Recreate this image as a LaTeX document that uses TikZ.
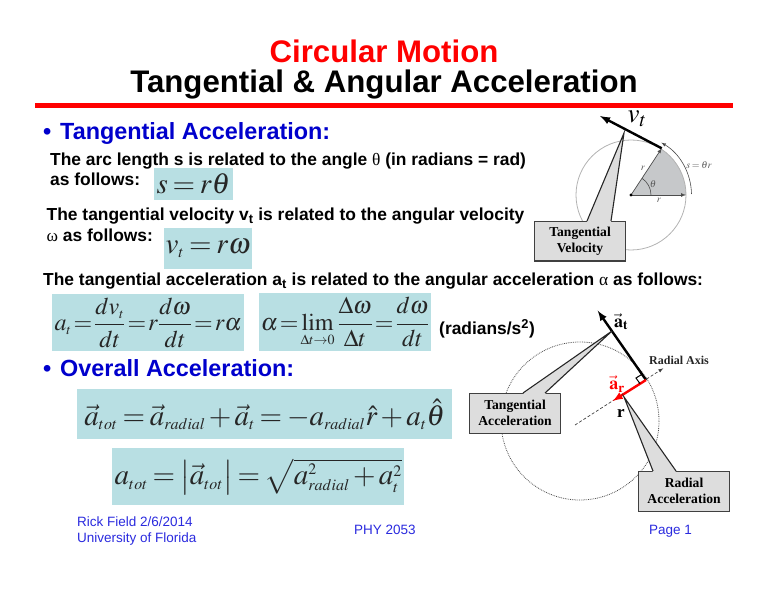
\documentclass[tikz,border=0pt]{standalone}
\usepackage{amsmath}
\usepackage{mathptmx}
\usepackage[no-math]{fontspec}
\setmainfont{Liberation Sans}
\newfontfamily\timesfont{Liberation Serif}
\usetikzlibrary{positioning}
\usetikzlibrary{calc}
\DeclareMathSizes{24}{24}{14}{10}
\DeclareMathSizes{29}{29}{16}{12}
\thickmuskip=3mu
\medmuskip=2mu
\definecolor{tealbox}{HTML}{B8DFE3}
\definecolor{headblue}{HTML}{0000CC}
\definecolor{footblue}{HTML}{2A2ADE}
\definecolor{callgray}{HTML}{DDDDDD}
\definecolor{wedgegray}{HTML}{C6C8CA}
\begin{document}
\begin{tikzpicture}[x=1pt,y=-1pt,
             title/.style={anchor=base,inner sep=0pt,font=\fontsize{31.2}{31.2}\selectfont\bfseries},
             heading/.style={anchor=base west,inner sep=0pt,text=headblue,font=\fontsize{23.4}{23.4}\selectfont\bfseries},
             body/.style={anchor=base west,inner sep=0pt,font=\fontsize{17.4}{17.4}\selectfont\bfseries},
             footer/.style={anchor=base west,inner sep=0pt,text=footblue,font=\fontsize{13.5}{13.5}\selectfont},
             eqn/.style={fill=tealbox,inner sep=0pt,anchor=north west,text=black!85,align=center},
             callbox/.style={draw=black!75,fill=callgray,line width=1.1pt,inner sep=0pt,anchor=north west,
                align=center,text width=91pt,minimum height=39.5pt,font=\timesfont\fontsize{13.6}{16}\selectfont\bfseries},
             pointer/.style={draw=black!85,line width=1.1pt,line join=miter},
             axis/.style={draw=black!75,line width=0.7pt,densely dashed},
             vecline/.style={-latex,line width=2.4pt},
             smalllab/.style={inner sep=0pt,text=black!65,font=\fontsize{10}{10}\selectfont},
             veclab/.style={inner sep=0pt,font=\fontsize{18}{18}\selectfont},
          ]
          \useasboundingbox (0,0) rectangle (768,593);
          \node[title,text=red] at (384,63) (headtop) {Circular Motion};
          \node[title] at (384,93) (headbot) {Tangential \& Angular Acceleration};
          \fill[red] (35,103) rectangle (733,108.5);

          \node[heading] at (43,140) (bul1) {•};
          \node[heading] at (60,140) (tang) {Tangential Acceleration:};
          \node[body] at (50,165.7) (t1) {The arc length s is related to the angle {\timesfont\mdseries θ} (in radians = rad)};
          \node[body] at (50,186) (t2) {as follows:};
          \node[eqn,minimum width=79.5pt,minimum height=32.5pt,font=\fontsize{29}{29}\selectfont] at (153.5,167.7) (e1) {$s=r\theta$};
          \node[body] at (46.5,220.7) (t3) {The tangential velocity v\textsubscript{t} is related to the angular velocity};
          \node[body] at (46.5,241.7) (t4) {{\timesfont\mdseries ω} as follows:};
          \node[eqn,minimum width=88pt,minimum height=41pt,font=\fontsize{29}{29}\selectfont] at (164,228) (e2) {$v_t=r\omega$};
          \node[body] at (43,285.7) (t5) {The tangential acceleration a\textsubscript{t} is related to the angular acceleration {\timesfont\mdseries α} as follows:};
          \node[eqn,minimum width=192pt,minimum height=57pt,font=\fontsize{24}{24}\selectfont] at (52,294) (e3) {$\thickmuskip=1.5mu\relax a_t=\dfrac{dv_t}{dt}=r\dfrac{d\omega}{dt}=r\alpha$};
          \node[eqn,minimum width=172pt,minimum height=58pt,font=\fontsize{24}{24}\selectfont] at (259,293) (e4) {$\thickmuskip=1.5mu\relax \alpha=\lim\limits_{\Delta t\to 0}\dfrac{\Delta\omega}{\Delta t}=\dfrac{d\omega}{dt}$};
          \node[body] at (439,335) (rads) {(radians/s\textsuperscript{2})};
          \node[heading] at (43,376) (bul2) {•};
          \node[heading] at (60,376) (over) {Overall Acceleration:};
          \node[eqn,minimum width=375pt,minimum height=50pt,font=\fontsize{29}{29}\selectfont] at (77,389) (e5) {$\vec{a}_{tot}=\vec{a}_{radial}+\vec{a}_t=-a_{radial}\hat{r}+a_t\hat{\theta}$};
          \node[eqn,minimum width=292pt,minimum height=57pt,font=\fontsize{29}{29}\selectfont] at (112,448) (e6) {$a_{tot}=\bigl|\vec{a}_{tot}\bigr|=\sqrt{a_{radial}^{2}+a_t^{2}}$};
          \node[footer] at (77,526) (f1) {Rick Field 2/6/2014};
          \node[footer] at (77,542.7) (f2) {University of Florida};
          \node[footer] at (354,534) (f3) {PHY 2053};
          \node[footer] at (649,534) (f4) {Page 1};

          \coordinate (c1) at (631,195);
          \coordinate (rim) at (661.7,148.3);
          \coordinate (rimr) at (686,195);
          \coordinate (vtip) at (600,116);
          \fill[wedgegray] (c1) -- (rimr) arc[start angle=0,end angle=-56.7,radius=55] -- cycle;
          \draw[black!30,line width=0.8pt] (c1) circle (55);
          \draw[black!70,line width=0.6pt] ($(c1)+(20,0)$) arc[start angle=0,end angle=-56.7,radius=20];
          \draw[-latex,black!70,line width=0.7pt] (c1) -- (rimr);
          \draw[-latex,black!70,line width=0.7pt] (c1) -- (rim);
          \fill[black] (c1) circle (1.6);
          \draw[-latex,black!70,line width=0.6pt] ($(c1)+(60.5,-1)$) arc[start angle=-1,end angle=-60,radius=60.5];
          \node[smalllab] at (643,168) (rlab1) {$r$};
          \node[smalllab] at (659,200) (rlab2) {$r$};
          \node[smalllab] at (653,184) (thlab) {$\theta$};
          \node[smalllab] at (699,165) (slab) {$s=\theta r$};
          \draw[vecline] (rim) -- (vtip);
          \node[inner sep=0pt,font=\fontsize{27}{27}\selectfont] at (637,119) (vtlab) {$v_t$};

          \coordinate (tvtip) at (624,133);
          \node[callbox] at (534,221) (tvbox) {Tangential\\Velocity};
          \fill[callgray] ($(tvbox.north west)+(53,1)$) -- (tvtip) -- ($(tvbox.north west)+(77,1)$) -- cycle;
          \draw[pointer] ($(tvbox.north west)+(53,0)$) -- (tvtip) -- ($(tvbox.north west)+(77,0)$);

          \coordinate (c2) at (580,421);
          \coordinate (axstart) at (575,425);
          \coordinate (axend) at (663.3,368.3);
          \coordinate (foot) at (646,380);
          \coordinate (attip) at (597.7,310.7);
          \coordinate (artip) at (612.7,401);
          \draw[black!70,line width=0.8pt,densely dotted] (c2) circle (79);
          \draw[axis,-latex] (axstart) -- (axend);
          \draw[vecline] (foot) -- (attip);
          \draw[vecline,red] (foot) -- (artip);
          \draw[line width=1pt] (642,374.3) -- (636,378) -- (640,383.7);
          \node[veclab] at (621,322) (atlab) {$\vec{\mathbf{a}}_{\mathbf{t}}$};
          \node[veclab,text=red] at (617,384) (arlab) {$\vec{\mathbf{a}}_{\mathbf{r}}$};
          \node[inner sep=0pt,font=\timesfont\fontsize{17}{17}\selectfont\bfseries] at (621,413) (rlab3) {r};
          \node[inner sep=0pt,font=\timesfont\fontsize{12}{12}\selectfont\bfseries,text=black!85] at (679,360) (axlab) {Radial Axis};

          \coordinate (tatip) at (612,331);
          \coordinate (ratip) at (624,397);
          \node[callbox] at (469,393) (tabox) {Tangential\\Acceleration};
          \fill[callgray] ($(tabox.north west)+(54,1)$) -- (tatip) -- ($(tabox.north west)+(76,1)$) -- cycle;
          \draw[pointer] ($(tabox.north west)+(54,0)$) -- (tatip) -- ($(tabox.north west)+(76,0)$);
          \node[callbox] at (638,471) (rabox) {Radial\\Acceleration};
          \fill[callgray] ($(rabox.north west)+(15,1)$) -- (ratip) -- ($(rabox.north west)+(38,1)$) -- cycle;
          \draw[pointer] ($(rabox.north west)+(15,0)$) -- (ratip) -- ($(rabox.north west)+(38,0)$);
       \end{tikzpicture}
\end{document}
